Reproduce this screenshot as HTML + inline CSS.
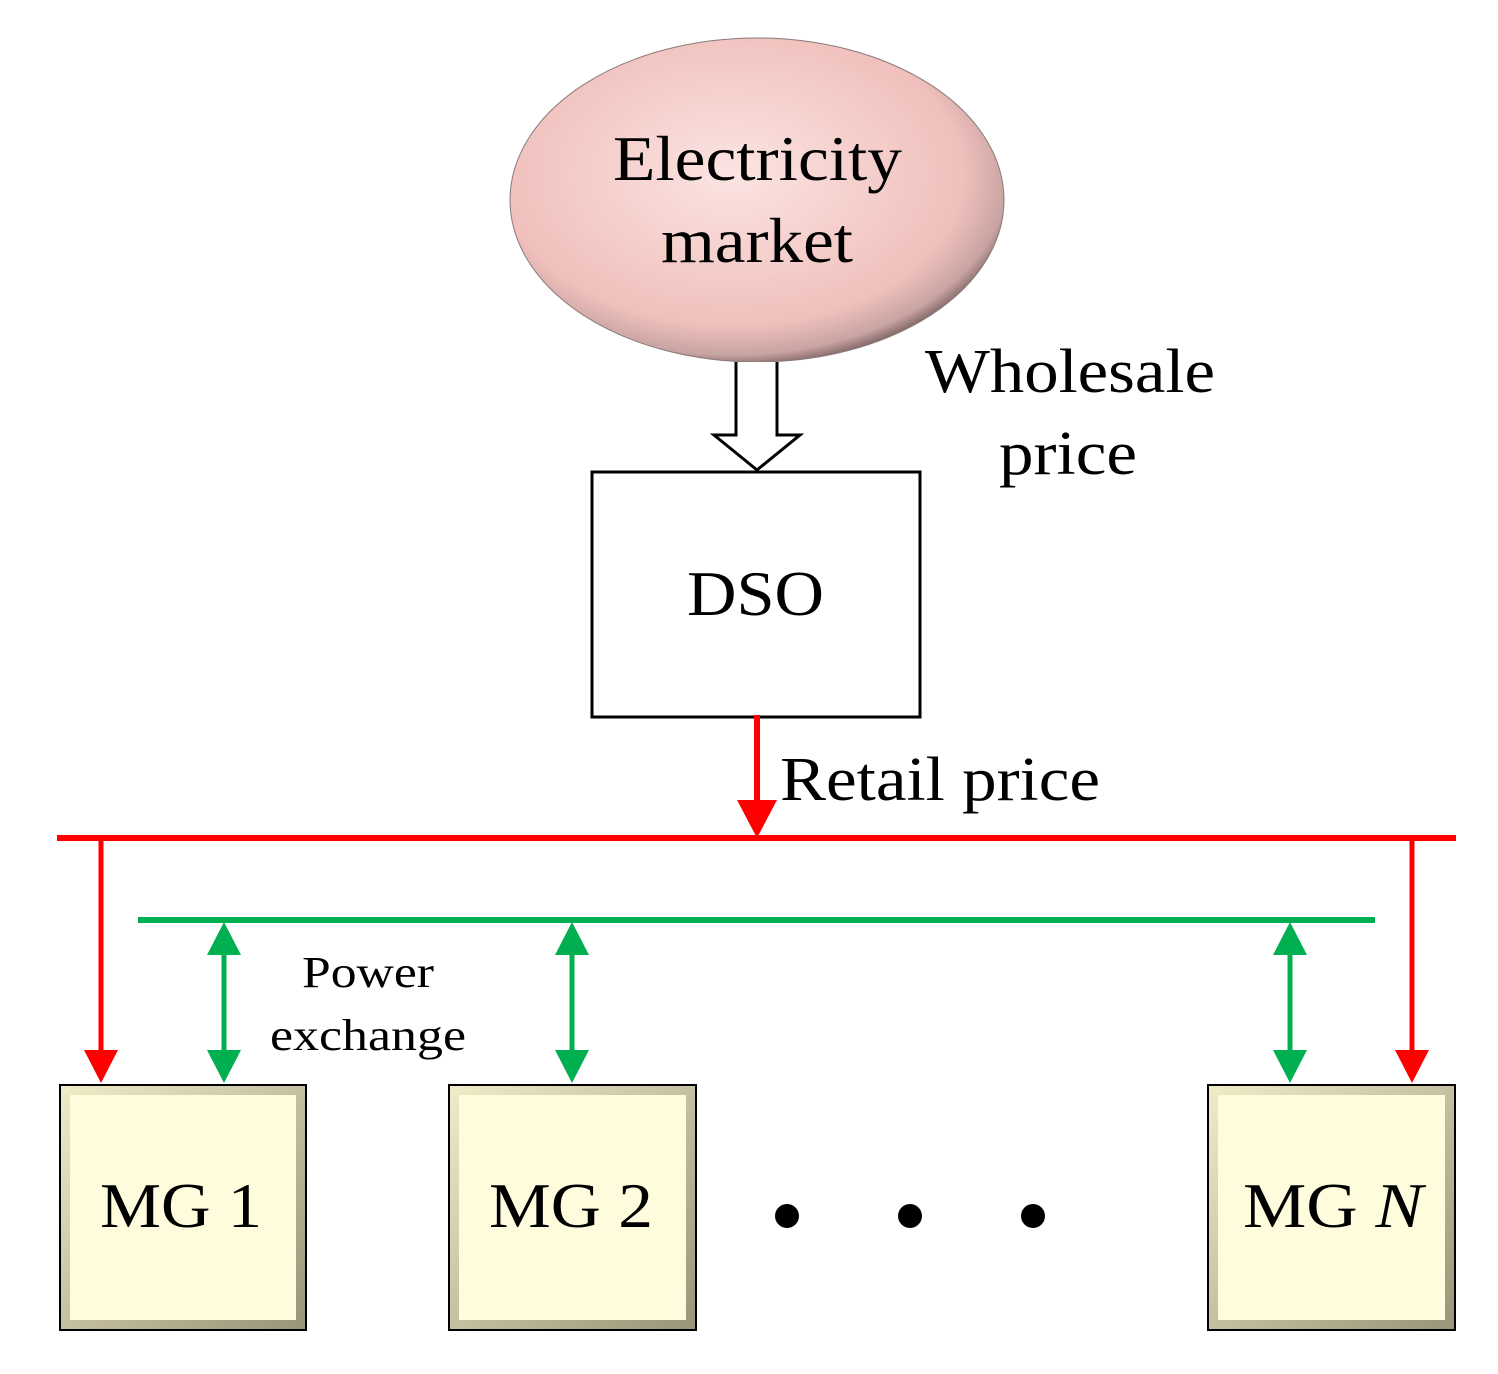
<!DOCTYPE html>
<html><head><style>body{margin:0;background:#fff}</style></head><body>
<svg width="1498" height="1369" viewBox="0 0 1498 1369" xmlns="http://www.w3.org/2000/svg" font-family="Liberation Serif, serif">
<defs>
<radialGradient id="eg" cx="0.45" cy="0.42" r="0.6">
<stop offset="0" stop-color="#fbe4e2"/><stop offset="0.78" stop-color="#f0c0bc"/><stop offset="0.93" stop-color="#c8a4a2"/><stop offset="1" stop-color="#7a6060"/></radialGradient>
<linearGradient id="mg" x1="0" y1="0" x2="1" y2="1"><stop offset="0" stop-color="#f0ecc8"/><stop offset="1" stop-color="#9a9478"/></linearGradient>
</defs>
<ellipse cx="757" cy="200" rx="247" ry="162" fill="url(#eg)" stroke="#8a7a7a" stroke-width="1"/>
<text x="613" y="180" font-size="64" textLength="289" lengthAdjust="spacingAndGlyphs">Electricity</text>
<text x="661" y="262" font-size="64" textLength="192" lengthAdjust="spacingAndGlyphs">market</text>
<path d="M736 362 V435 H714 L757 470 L800 435 H777 V362" fill="#fff" stroke="#000" stroke-width="3"/>
<text x="925" y="392" font-size="62" textLength="290" lengthAdjust="spacingAndGlyphs">Wholesale</text>
<text x="999" y="474" font-size="62" textLength="138" lengthAdjust="spacingAndGlyphs">price</text>
<rect x="592" y="472" width="328" height="245" fill="#fff" stroke="#000" stroke-width="3"/>
<text x="687" y="615" font-size="64" textLength="137" lengthAdjust="spacingAndGlyphs">DSO</text>
<line x1="757" y1="715" x2="757" y2="805" stroke="#f00" stroke-width="6"/>
<polygon points="737,800 777,800 757,838" fill="#f00"/>
<text x="780" y="800" font-size="62" textLength="320" lengthAdjust="spacingAndGlyphs">Retail price</text>
<line x1="57" y1="838" x2="1456" y2="838" stroke="#f00" stroke-width="6"/>
<line x1="101" y1="838" x2="101" y2="1055" stroke="#f00" stroke-width="5"/>
<polygon points="84,1050 118,1050 101,1083" fill="#f00"/>
<line x1="1412" y1="838" x2="1412" y2="1055" stroke="#f00" stroke-width="5"/>
<polygon points="1395,1050 1429,1050 1412,1083" fill="#f00"/>
<line x1="138" y1="920" x2="1375" y2="920" stroke="#00b050" stroke-width="6"/>
<g fill="#00b050" stroke="#00b050">
<line x1="224" y1="950" x2="224" y2="1055" stroke-width="5"/><polygon points="207,955 241,955 224,922" stroke="none"/><polygon points="207,1050 241,1050 224,1083" stroke="none"/>
<line x1="572" y1="950" x2="572" y2="1055" stroke-width="5"/><polygon points="555,955 589,955 572,922" stroke="none"/><polygon points="555,1050 589,1050 572,1083" stroke="none"/>
<line x1="1290" y1="950" x2="1290" y2="1055" stroke-width="5"/><polygon points="1273,955 1307,955 1290,922" stroke="none"/><polygon points="1273,1050 1307,1050 1290,1083" stroke="none"/>
</g>
<text x="302" y="987" font-size="44" textLength="132" lengthAdjust="spacingAndGlyphs">Power</text>
<text x="270" y="1050" font-size="44" textLength="196" lengthAdjust="spacingAndGlyphs">exchange</text>
<g>
<rect x="60" y="1085" width="246" height="245" fill="url(#mg)" stroke="#000" stroke-width="2"/>
<rect x="70" y="1095" width="226" height="225" fill="#fefcdc"/>
<rect x="449" y="1085" width="247" height="245" fill="url(#mg)" stroke="#000" stroke-width="2"/>
<rect x="459" y="1095" width="227" height="225" fill="#fefcdc"/>
<rect x="1208" y="1085" width="247" height="245" fill="url(#mg)" stroke="#000" stroke-width="2"/>
<rect x="1218" y="1095" width="227" height="225" fill="#fefcdc"/>
</g>
<text x="100" y="1227" font-size="64" textLength="162" lengthAdjust="spacingAndGlyphs">MG 1</text>
<text x="489" y="1227" font-size="64" textLength="164" lengthAdjust="spacingAndGlyphs">MG 2</text>
<text x="1243" y="1227" font-size="64" textLength="180" lengthAdjust="spacingAndGlyphs">MG <tspan font-style="italic">N</tspan></text>
<circle cx="787" cy="1216" r="12"/><circle cx="910" cy="1216" r="12"/><circle cx="1033" cy="1216" r="12"/>
</svg>
</body></html>
